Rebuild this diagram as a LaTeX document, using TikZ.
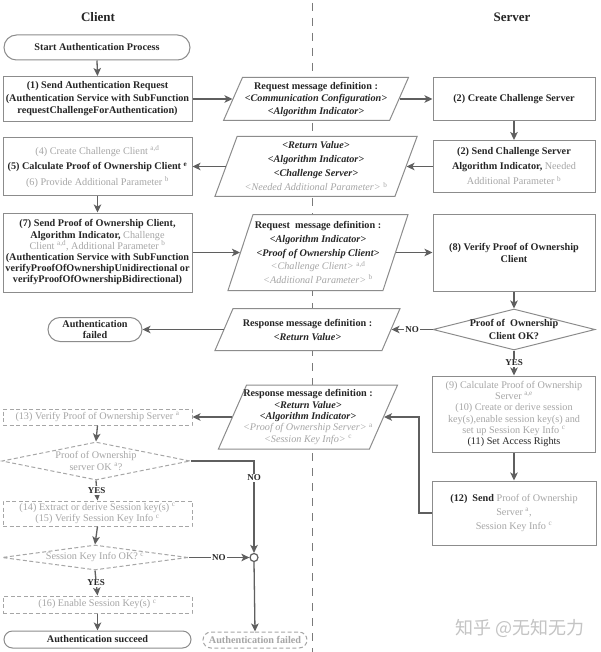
\documentclass[tikz,border=0pt]{standalone}
\usepackage{fontspec}
\setmainfont{Liberation Serif}
\newfontfamily\cjkfont{Noto Sans CJK SC}
\usetikzlibrary{shapes.geometric,shapes.misc,arrows.meta}
\definecolor{ln}{HTML}{5F5F5F}
\definecolor{bx}{HTML}{8C8C8C}
\definecolor{tx}{HTML}{262626}
\definecolor{lt}{HTML}{A6A6A6}
\definecolor{dv}{HTML}{7A7A7A}
\definecolor{wm}{HTML}{C4C4C4}
\newcommand\gr[1]{{\color{lt}\mdseries #1}}
\newcommand\su[1]{\textsuperscript{#1}}
\begin{document}
\begin{tikzpicture}[x=1pt,y=-1pt,
  arr/.style={draw=ln, line width=1.3pt, -{Stealth[length=8pt,width=7.5pt,inset=2pt]}},
  con/.style={draw=ln, line width=1.3pt},
  box/.style={draw=bx, line width=1pt, fill=white, rectangle, inner sep=1pt, align=center, text=tx, font=\fontsize{10.2}{#1}\selectfont\bfseries},
  box/.default=11.3,
  dbox/.style={box=#1, draw=lt, dash pattern=on 4pt off 2.5pt},
  dbox/.default=11.3,
  pill/.style={box=#1, rounded rectangle},
  pill/.default=11.3,
  para/.style={draw=bx, line width=1pt, fill=white, rectangle, transform shape, inner sep=0pt},
  ptxt/.style={align=center, inner sep=0pt, text=tx, font=\fontsize{10.2}{#1}\selectfont\bfseries},
  ptxt/.default=11.3,
  dia/.style={draw=bx, line width=1pt, fill=white, diamond, inner sep=0pt},
  ddia/.style={dia, draw=lt, dash pattern=on 4pt off 2.5pt},
  lbl/.style={fill=white, inner sep=1pt, text=tx, font=\fontsize{9}{10}\selectfont\bfseries},
  ttl/.style={text=tx, font=\fontsize{13}{14}\selectfont\bfseries}
]
\useasboundingbox (0,0) rectangle (600,652);
\fill[white] (0,0) rectangle (600,652);

% divider
\coordinate (divtop) at (312,3);
\coordinate (divbot) at (312,652);
\draw[dv, line width=1pt, dash pattern=on 8pt off 7pt] (divtop) -- (divbot);

% titles
\node[ttl] (tclient) at (98,17) {Client};
\node[ttl] (tserver) at (512,17) {Server};

% left column
\node[pill, minimum width=188, minimum height=25] (start) at (97,47.5) {Start Authentication Process};
\node[box=12.5, minimum width=189, minimum height=45] (b1) at (97.5,99) {(1) Send Authentication Request\\(Authentication Service with SubFunction\\requestChallengeForAuthentication)};
\node[box=15.5, minimum width=189, minimum height=58] (b456) at (97.5,166.5) {\gr{(4) Create Challenge Client \su{a,d}}\\(5) Calculate Proof of Ownership Client \su{e}\\\gr{(6) Provide Additional Parameter \su{b}}};
\node[box=11.2, minimum width=189, minimum height=79] (b7) at (97.5,252.5) {(7) Send Proof of Ownership Client,\\Algorithm Indicator, \gr{Challenge}\\\gr{Client \su{a,d}, Additional Parameter \su{b}}\\(Authentication Service with SubFunction\\verifyProofOfOwnershipUnidirectional or\\verifyProofOfOwnershipBidirectional)};
\node[pill=11.5, minimum width=96, minimum height=24] (fail1) at (95,329.5) {Authentication\\failed};
\node[dbox, minimum width=189, minimum height=16] (b13) at (97.5,417) {\gr{(13) Verify Proof of Ownership Server \su{a}}};
\node[ddia, minimum width=188, minimum height=38] (d2) at (96,461) {};
\node[ptxt=12] (d2t) at (96,461) {\gr{Proof of Ownership}\\\gr{server OK \su{a}?}};
\node[dbox=11.5, minimum width=189, minimum height=25] (b14) at (97.5,513.5) {\gr{(14) Extract or derive Session key(s) \su{c}}\\\gr{(15) Verify Session Key Info \su{c}}};
\node[ddia, minimum width=186, minimum height=25] (d3) at (95,557.5) {};
\node[ptxt] (d3t) at (95,557.5) {\gr{Session Key Info OK? \su{c}}};
\node[dbox, minimum width=189, minimum height=17] (b16) at (97.5,604.5) {\gr{(16) Enable Session Key(s) \su{c}}};
\node[pill, minimum width=189, minimum height=17] (succ) at (97.5,639.5) {Authentication succeed};
\node[circle, draw=ln, line width=1.2pt, fill=white, minimum size=8pt, inner sep=0pt] (circ) at (254,557.5) {};
\node[pill, draw=lt, dash pattern=on 4pt off 2.5pt, minimum width=106, minimum height=16] (fail2) at (255,640) {\gr{\bfseries Authentication failed}};

% parallelograms
\begin{scope}[shift={(316,99)}, xslant=0.44]
  \node[para, minimum width=166, minimum height=43] (p1) at (0,0) {};
\end{scope}
\node[ptxt=12.5] (p1t) at (316,99) {Request message definition :\\\textit{<Communication Configuration>}\\\textit{<Algorithm Indicator>}};
\begin{scope}[shift={(316,166.5)}, xslant=0.37]
  \node[para, minimum width=180, minimum height=60] (p2) at (0,0) {};
\end{scope}
\node[ptxt=14] (p2t) at (316,166.5) {\textit{<Return Value>}\\\textit{<Algorithm Indicator>}\\\textit{<Challenge Server>}\\\gr{\textit{<Needed Additional Parameter>} \su{b}}};
\begin{scope}[shift={(318,252.5)}, xslant=0.33]
  \node[para, minimum width=155, minimum height=76] (p3) at (0,0) {};
\end{scope}
\node[ptxt=13.7] (p3t) at (318,252.5) {Request\ \ message definition :\\\textit{<Algorithm Indicator>}\\\textit{<Proof of Ownership Client>}\\\gr{\textit{<Challenge Client>} \su{a,d}}\\\gr{\textit{<Additional Parameter>} \su{b}}};
\begin{scope}[shift={(307.5,329.5)}, xslant=0.43]
  \node[para, minimum width=167, minimum height=42] (p4) at (0,0) {};
\end{scope}
\node[ptxt=14] (p4t) at (307.5,329.5) {Response message definition :\\\textit{<Return Value>}};
\begin{scope}[shift={(308,417)}, xslant=0.44]
  \node[para, minimum width=151, minimum height=64] (p5) at (0,0) {};
\end{scope}
\node[ptxt=11.4] (p5t) at (308,417) {Response message definition :\\\textit{<Return Value>}\\\textit{<Algorithm Indicator>}\\\gr{\textit{<Proof of Ownership Server>} \su{a}}\\\gr{\textit{<Session Key Info>} \su{c}}};

% right column
\node[box, minimum width=162, minimum height=43] (b2a) at (514,99) {(2) Create Challenge Server};
\node[box=15, minimum width=162, minimum height=52] (b2b) at (514,166.5) {(2) Send Challenge Server\\Algorithm Indicator, \gr{Needed}\\\gr{Additional Parameter \su{b}}};
\node[box=12, minimum width=162, minimum height=77] (b8) at (514,252.5) {(8) Verify Proof of Ownership\\Client};
\node[dia, minimum width=162, minimum height=41] (d1) at (514,329.5) {};
\node[ptxt=12.5] (d1t) at (514,329.5) {Proof of\ \ Ownership\\Client OK?};
\node[box=11.3, minimum width=163, minimum height=76] (b9) at (514,414) {\gr{(9) Calculate Proof of Ownership}\\\gr{Server \su{a,e}}\\\gr{(10) Create or derive session}\\\gr{key(s),enable session key(s) and}\\\gr{set up Session Key Info \su{c}}\\{\mdseries (11) Set Access Rights}};
\node[box=14, minimum width=164, minimum height=64] (b12) at (514,513) {(12)\ \ Send \gr{Proof of Ownership}\\\gr{Server \su{a},}\\\gr{Session Key Info \su{c}}};
\coordinate (c12) at (419,513);

% watermark
\node[text=wm, font=\cjkfont\fontsize{18}{18}\selectfont] (wmark) at (520,628) {知乎 @无知无力};

% connectors
\draw[arr] (start.south) -- (b1.north);
\draw[arr] (b1.east) -- (p1.west);
\draw[arr] (p1.east) -- (b2a.west);
\draw[arr] (b2a.south) -- (b2b.north);
\draw[arr] (b2b.west) -- (p2.east);
\draw[arr] (p2.west) -- (b456.east);
\draw[arr] (b456.south) -- (b7.north);
\draw[arr] (b7.east) -- (p3.west);
\draw[arr] (p3.east) -- (b8.west);
\draw[arr] (b8.south) -- (d1.north);
\draw[arr] (d1.west) -- node[lbl] (no1) {NO} (p4.east);
\draw[arr] (p4.west) -- (fail1.east);
\draw[arr] (d1.south) -- node[lbl] (yes1) {YES} (b9.north);
\draw[arr] (b9.south) -- (b12.north);
\draw[arr] (b12.west) -- (c12) |- (p5.east);
\draw[arr] (p5.west) -- (b13.east);
\draw[arr] (b13.south) -- (d2.north);
\draw[arr] (d2.east) -| node[lbl, pos=0.59] (no2) {NO} (circ.north);
\draw[arr] (d2.south) -- node[lbl] (yes2) {YES} (b14.north);
\draw[arr] (b14.south) -- (d3.north);
\draw[arr] (d3.east) -- node[lbl] (no3) {NO} (circ.west);
\draw[arr] (d3.south) -- node[lbl] (yes3) {YES} (b16.north);
\draw[arr] (b16.south) -- (succ.north);
\draw[arr] (circ.south) -- (fail2.north);
\end{tikzpicture}
\end{document}
